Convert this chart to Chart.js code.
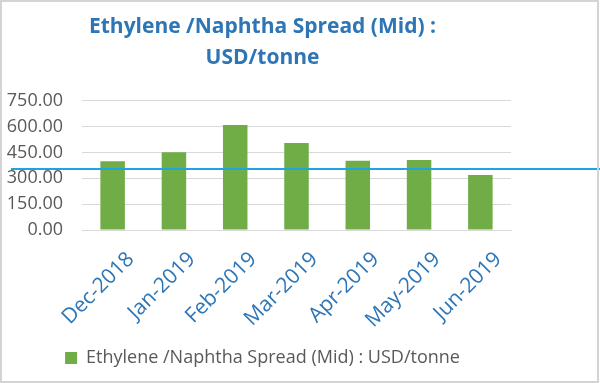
<!DOCTYPE html>
<html>
<head>
<meta charset="utf-8">
<script src="https://cdn.jsdelivr.net/npm/chart.js@4/dist/chart.umd.min.js"></script>
<style>
html,body{margin:0;padding:0;background:#fff;}
#wrap{width:600px;height:383px;position:relative;}
</style>
</head>
<body>
<div id="wrap"><canvas id="c" width="600" height="383"></canvas></div>
<script>
const categories = ["Dec-2018","Jan-2019","Feb-2019","Mar-2019","Apr-2019","May-2019","Jun-2019"];
const spreadValues = [400, 452, 610, 506, 402, 406, 320];
const seriesName = "Ethylene /Naphtha Spread (Mid) : USD/tonne";
const titleLines = ["Ethylene /Naphtha Spread (Mid) :", "USD/tonne"];
const yTicks = [0, 150, 300, 450, 600, 750];
const referenceLine = [354];

const frameAndLine = {
  id: 'frameAndLine',
  beforeDraw(chart) {
    const ctx = chart.ctx;
    ctx.save();
    ctx.fillStyle = '#ffffff';
    ctx.fillRect(0, 0, chart.width, chart.height);
    ctx.restore();
  },
  afterDatasetsDraw(chart) {
    const ctx = chart.ctx;
    const y = chart.scales.y.getPixelForValue(referenceLine[0]);
    ctx.save();
    ctx.strokeStyle = '#1fa3e3';
    ctx.lineWidth = 2;
    ctx.beginPath();
    ctx.moveTo(11, y);
    ctx.lineTo(chart.width, y);
    ctx.stroke();
    ctx.restore();
  },
  afterDraw(chart) {
    const ctx = chart.ctx;
    ctx.save();
    ctx.strokeStyle = '#d4d4d4';
    ctx.lineWidth = 2;
    ctx.strokeRect(1, 1, chart.width - 3, chart.height - 2);
    ctx.restore();
  }
};

new Chart(document.getElementById('c'), {
  type: 'bar',
  data: {
    labels: categories,
    datasets: [{
      label: seriesName,
      data: spreadValues,
      backgroundColor: '#70ad47',
      borderWidth: 0,
      barPercentage: 0.4,
      categoryPercentage: 1.0
    }]
  },
  options: {
    responsive: false,
    animation: false,
    devicePixelRatio: 1,
    layout: { padding: { left: 0, right: 75, top: 12, bottom: 6 } },
    plugins: {
      title: {
        display: true,
        text: titleLines,
        color: '#2e75b6',
        font: { family: 'Open Sans', size: 21, weight: 'bold', lineHeight: 1.45 },
        padding: { top: 0, bottom: 28 }
      },
      legend: {
        display: true,
        position: 'bottom',
        labels: {
          color: '#595959',
          font: { family: 'Open Sans', size: 18 },
          boxWidth: 12,
          boxHeight: 12,
          padding: 10
        }
      },
      tooltip: { enabled: false }
    },
    scales: {
      y: {
        min: 0,
        max: 750,
        afterBuildTicks(scale) { scale.ticks = yTicks.map(v => ({ value: v })); },
        afterFit(scale) { scale.width = 82; },
        ticks: {
          color: '#595959',
          font: { family: 'Open Sans', size: 18 },
          padding: 19,
          callback: v => Number(v).toFixed(2)
        },
        grid: { color: '#d9d9d9', drawTicks: false },
        border: { display: false }
      },
      yRight: {
        position: 'right',
        display: true,
        afterFit(scale) { scale.width = 14; },
        ticks: { display: false },
        grid: { display: false, drawTicks: false },
        border: { display: false }
      },
      x: {
        afterFit(scale) { scale.height = 109; },
        ticks: {
          color: '#2e75b6',
          font: { family: 'Open Sans', size: 21 },
          minRotation: 45,
          maxRotation: 45,
          padding: 17,
          labelOffset: 18
        },
        grid: { display: false, drawTicks: false },
        border: { display: true, color: '#d9d9d9' }
      }
    }
  },
  plugins: [frameAndLine]
});
</script>
</body>
</html>
